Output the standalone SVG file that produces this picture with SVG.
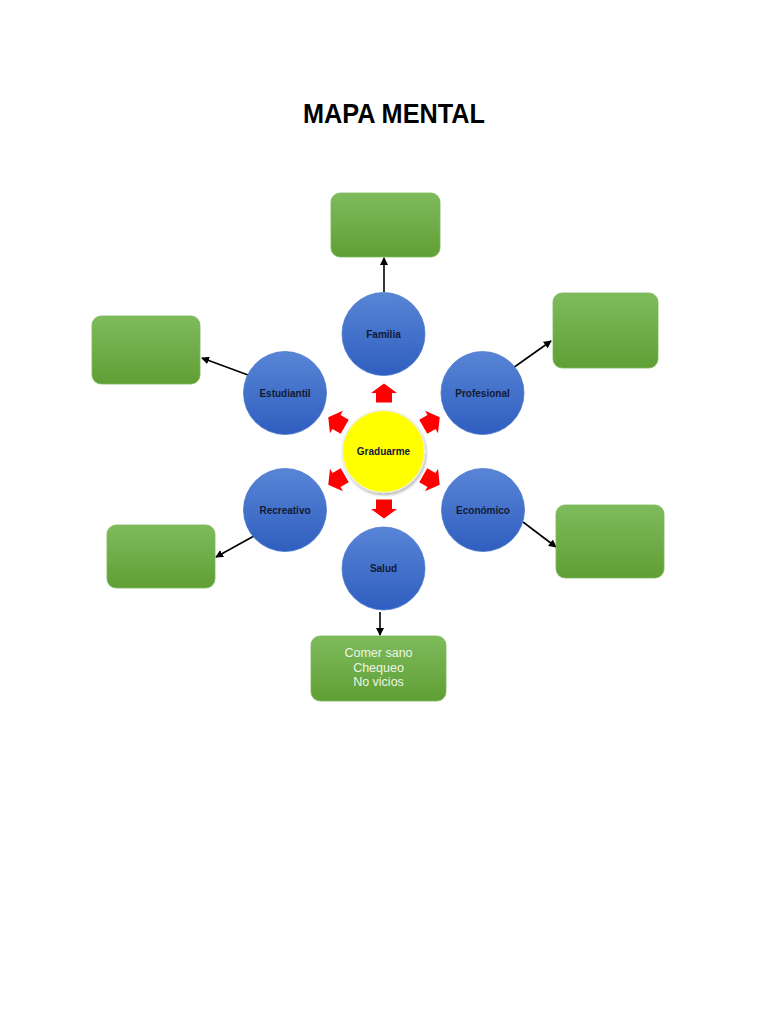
<svg xmlns="http://www.w3.org/2000/svg" width="768" height="1024" viewBox="0 0 768 1024">
<defs>
  <linearGradient id="gBlue" x1="0" y1="0" x2="0" y2="1">
    <stop offset="0" stop-color="#5885d6"/>
    <stop offset="1" stop-color="#2f5ebf"/>
  </linearGradient>
  <linearGradient id="gGreen" x1="0" y1="0" x2="0" y2="1">
    <stop offset="0" stop-color="#7ebb5c"/>
    <stop offset="1" stop-color="#5f9f34"/>
  </linearGradient>
  <filter id="sh" x="-20%" y="-20%" width="140%" height="140%">
    <feDropShadow dx="1" dy="2" stdDeviation="1.5" flood-color="#000" flood-opacity="0.3"/>
  </filter>
  <marker id="ah" markerWidth="8" markerHeight="8" refX="7" refY="4" orient="auto" markerUnits="userSpaceOnUse">
    <path d="M0,0 L8,4 L0,8 Z" fill="#000"/>
  </marker>
  <path id="blk" d="M0,-9.5 L13,0 L8,0 L8,9.5 L-8,9.5 L-8,0 L-13,0 Z"/>
  <style>
    .circ{fill:url(#gBlue);stroke:#4a78cc;stroke-width:0.8}
    .box{fill:url(#gGreen);stroke:#7cb65a;stroke-width:0.8}
    .lbl{font-family:"Liberation Sans",Arial,sans-serif;font-weight:bold;font-size:10px;fill:#111a33;text-anchor:middle}
    .conn{stroke:#000;stroke-width:1.6;fill:none;marker-end:url(#ah)}
    .red{fill:#ff0000}
    .btxt{font-family:"Liberation Sans",Arial,sans-serif;font-size:12.5px;fill:#eef5e6;text-anchor:middle}
  </style>
</defs>
<rect width="768" height="1024" fill="#ffffff"/>
<text x="394" y="123" font-family="Liberation Sans, Arial, sans-serif" font-weight="bold" font-size="28" text-anchor="middle" textLength="182" lengthAdjust="spacingAndGlyphs" fill="#000">MAPA MENTAL</text>

<g id="connectors">
  <line class="conn" x1="384" y1="292" x2="384" y2="258"/>
  <line class="conn" x1="248" y1="375" x2="202" y2="358"/>
  <line class="conn" x1="513" y1="368" x2="551" y2="341"/>
  <line class="conn" x1="523" y1="522" x2="556" y2="547"/>
  <line class="conn" x1="254" y1="536" x2="216" y2="557"/>
  <line class="conn" x1="380" y1="612" x2="380" y2="635"/>
</g>

<g id="red-arrows">
  <use href="#blk" class="red" transform="translate(384,393)"/>
  <use href="#blk" class="red" transform="translate(384,509) rotate(180)"/>
  <use href="#blk" class="red" transform="translate(336.5,422) rotate(-60)"/>
  <use href="#blk" class="red" transform="translate(431.5,422) rotate(60)"/>
  <use href="#blk" class="red" transform="translate(336.5,480) rotate(-120)"/>
  <use href="#blk" class="red" transform="translate(431.5,480) rotate(120)"/>
</g>

<g id="box-familia"><rect class="box" x="331" y="193" width="109" height="64" rx="9"/></g>
<g id="box-estudiantil"><rect class="box" x="92" y="316" width="108" height="68" rx="9"/></g>
<g id="box-profesional"><rect class="box" x="553" y="293" width="105" height="75" rx="9"/></g>
<g id="box-economico"><rect class="box" x="556" y="505" width="108" height="73" rx="9"/></g>
<g id="box-recreativo"><rect class="box" x="107" y="525" width="108" height="63" rx="9"/></g>
<g id="box-salud">
  <rect class="box" x="311" y="636" width="135" height="65" rx="9"/>
  <text class="btxt" x="378.5" y="656.5">Comer sano</text>
  <text class="btxt" x="378.5" y="671.5">Chequeo</text>
  <text class="btxt" x="378.5" y="686">No vicios</text>
</g>

<g id="node-familia"><circle class="circ" cx="383.5" cy="334" r="41.5"/><text class="lbl" x="383.5" y="337.5">Familia</text></g>
<g id="node-estudiantil"><circle class="circ" cx="285" cy="393" r="41.5"/><text class="lbl" x="285" y="396.5">Estudiantil</text></g>
<g id="node-profesional"><circle class="circ" cx="482.5" cy="393" r="41.5"/><text class="lbl" x="482.5" y="396.5">Profesional</text></g>
<g id="node-recreativo"><circle class="circ" cx="285" cy="510" r="41.5"/><text class="lbl" x="285" y="513.5">Recreativo</text></g>
<g id="node-economico"><circle class="circ" cx="483" cy="510" r="41.5"/><text class="lbl" x="483" y="513.5">Económico</text></g>
<g id="node-salud"><circle class="circ" cx="383.5" cy="568.5" r="41.5"/><text class="lbl" x="383.5" y="572">Salud</text></g>
<g id="node-graduarme"><circle cx="383.5" cy="451.5" r="41" fill="#ffff00" stroke="#f0f0d0" stroke-width="1.5" filter="url(#sh)"/><text class="lbl" x="383.5" y="455">Graduarme</text></g>
</svg>
